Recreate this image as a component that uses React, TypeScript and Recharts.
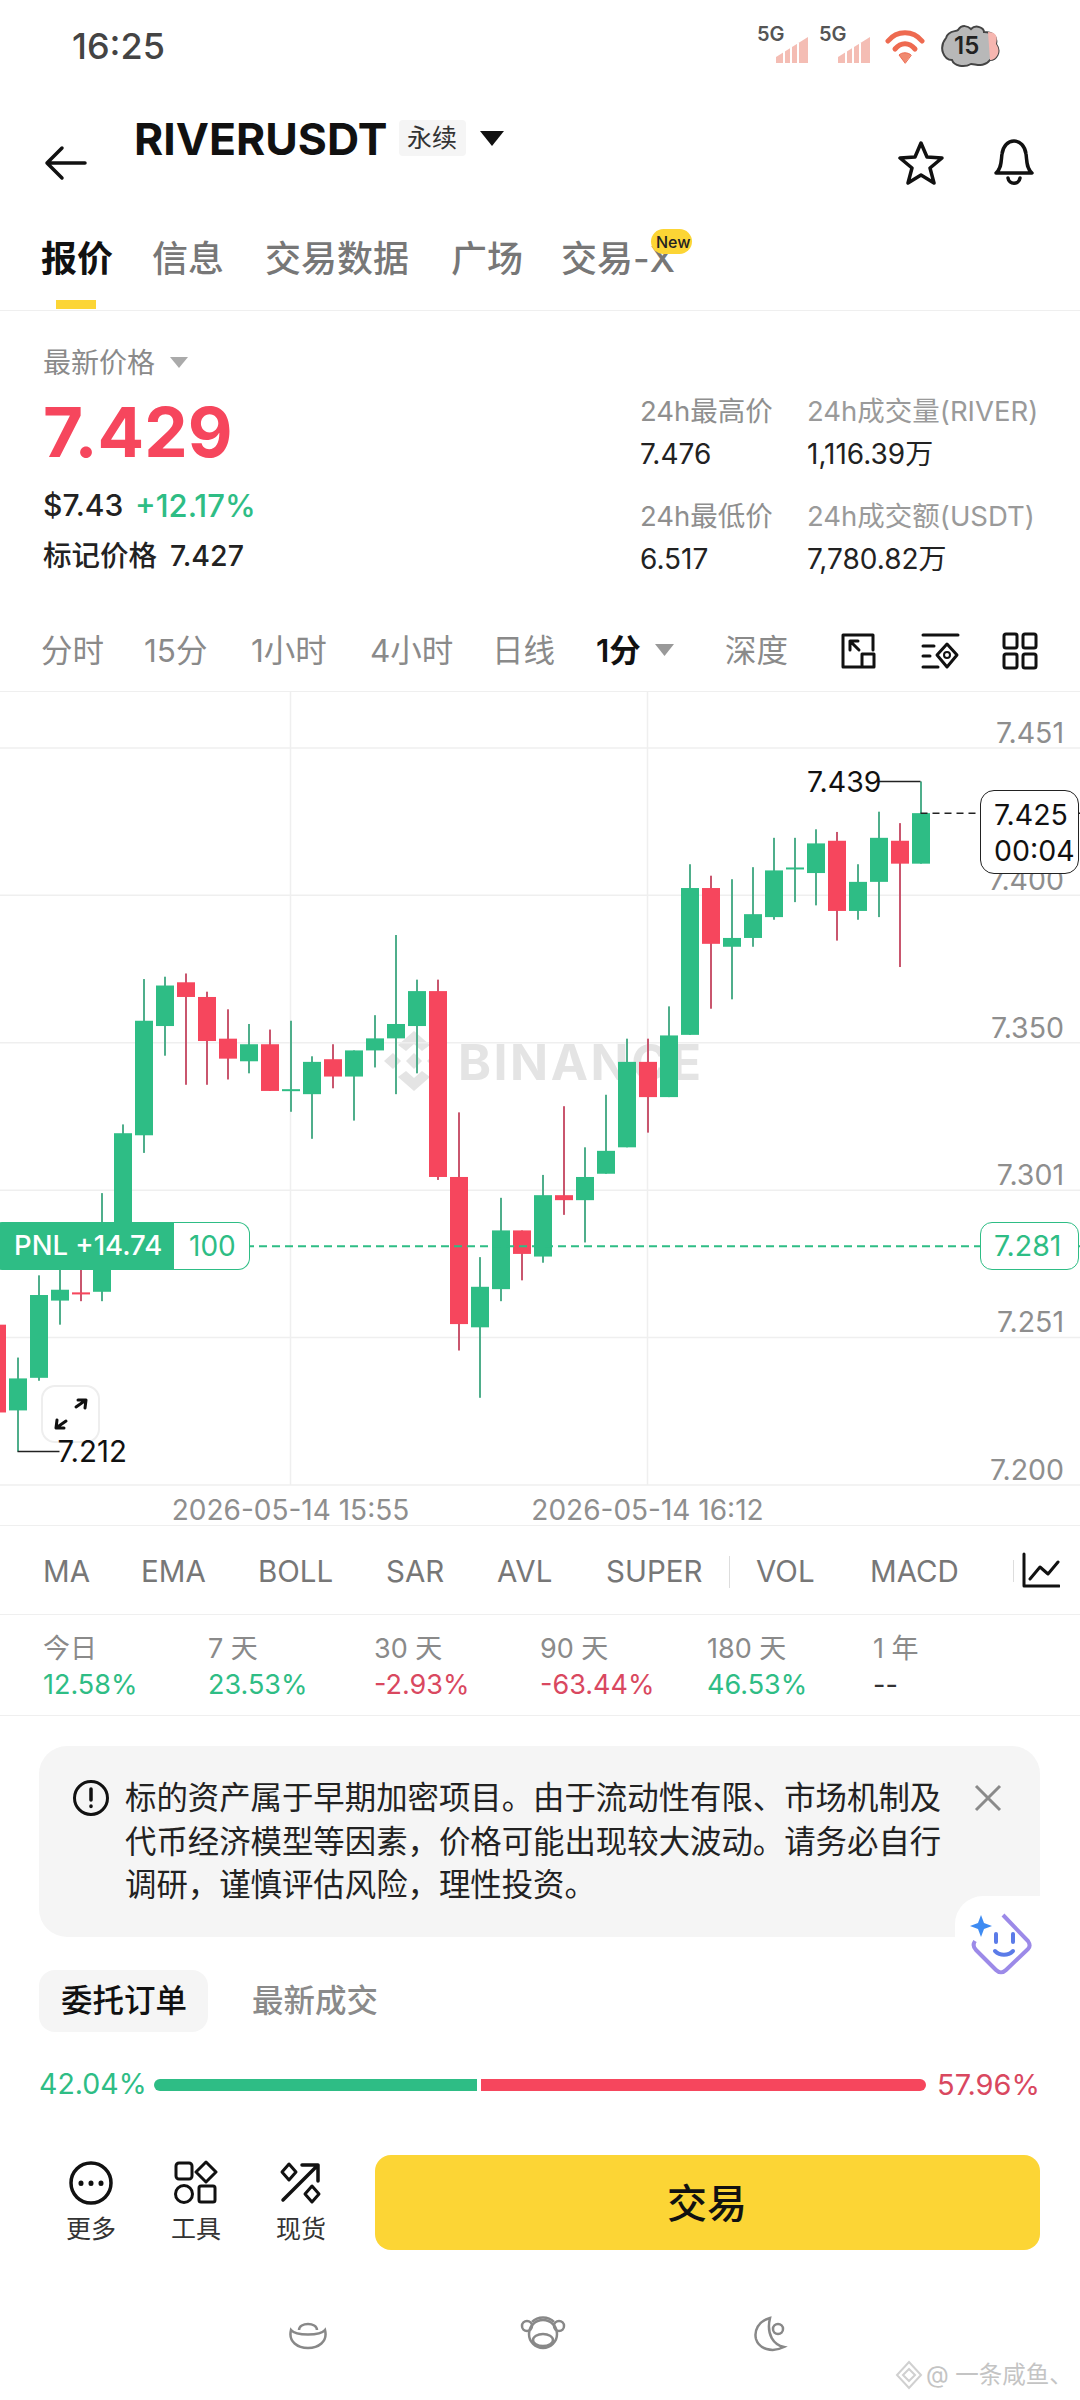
import React from "react";
import {
  Bar,
  BarChart,
  CartesianGrid,
  ComposedChart,
  ReferenceDot,
  ReferenceLine,
  XAxis,
  YAxis,
} from "recharts";

const FONT = "Inter, 'Noto Sans CJK SC', sans-serif";
const GREEN = "#2EBD85";
const RED = "#F6465D";
const GRID = "#EFEFEF";

// one candle a minute; the last slots stay empty, that is the room the app leaves on the right
const minutes = [
  "15:41", "15:42", "15:43", "15:44", "15:45", "15:46", "15:47", "15:48", "15:49", "15:50",
  "15:51", "15:52", "15:53", "15:54", "15:55", "15:56", "15:57", "15:58", "15:59", "16:00",
  "16:01", "16:02", "16:03", "16:04", "16:05", "16:06", "16:07", "16:08", "16:09", "16:10",
  "16:11", "16:12", "16:13", "16:14", "16:15", "16:16", "16:17", "16:18", "16:19", "16:20",
  "16:21", "16:22", "16:23", "16:24", "16:25", "16:26", "16:27", "16:28", "16:29", "16:30",
  "16:31", "16:32", "16:33",
];
const opens = [
  7.2546, 7.2254, 7.2365, 7.2628, 7.2656, 7.2658, 7.2798, 7.3191, 7.3563, 7.3712,
  7.3662, 7.352, 7.3443, 7.3501, 7.3342, 7.3331, 7.345, 7.3391, 7.348, 7.3521,
  7.3563, 7.3682, 7.3049, 7.2537, 7.2667, 7.2867, 7.2778, 7.2987, 7.297, 7.306,
  7.315, 7.3441, 7.3321, 7.3533, 7.4033, 7.3833, 7.3863, 7.3934, 7.4097, 7.4084,
  7.4194, 7.3955, 7.4054, 7.4194, 7.4116,
];
const closes = [
  7.2247, 7.2363, 7.2647, 7.2665, 7.2649, 7.2798, 7.3198, 7.3581, 7.3701, 7.3662,
  7.3512, 7.3452, 7.3501, 7.3342, 7.3348, 7.3441, 7.3391, 7.348, 7.3521, 7.357,
  7.3682, 7.3049, 7.2548, 7.2675, 7.2867, 7.2787, 7.2987, 7.297, 7.3049, 7.3138,
  7.3441, 7.3321, 7.3531, 7.4033, 7.3843, 7.3863, 7.3944, 7.4093, 7.4103, 7.4185,
  7.3955, 7.4054, 7.4204, 7.4116, 7.4288,
];
const highs = [
  7.2546, 7.2434, 7.2714, 7.2733, 7.2733, 7.2994, 7.3228, 7.3723, 7.3731, 7.3742,
  7.368, 7.362, 7.357, 7.3551, 7.3581, 7.346, 7.3501, 7.348, 7.36, 7.3873,
  7.3721, 7.3721, 7.3269, 7.2776, 7.2978, 7.2867, 7.3056, 7.329, 7.315, 7.3329,
  7.352, 7.352, 7.363, 7.4114, 7.4075, 7.4063, 7.4104, 7.4204, 7.4204, 7.4233,
  7.4224, 7.4114, 7.4293, 7.4254, 7.4396,
];
const lows = [
  7.2247, 7.2114, 7.2355, 7.2546, 7.2626, 7.2626, 7.2779, 7.3131, 7.3462, 7.3363,
  7.3363, 7.3381, 7.3402, 7.3342, 7.3271, 7.3179, 7.3351, 7.3241, 7.3422, 7.3331,
  7.3402, 7.3039, 7.2458, 7.2297, 7.2626, 7.2697, 7.2757, 7.292, 7.2826, 7.306,
  7.315, 7.32, 7.3321, 7.3533, 7.3622, 7.3654, 7.3833, 7.3925, 7.3985, 7.3974,
  7.3854, 7.3925, 7.3934, 7.3764, 7.4116,
];

const yTicks = [7.2, 7.2502, 7.3004, 7.3506, 7.4008, 7.451];
const yTickLabels = ["7.200", "7.251", "7.301", "7.350", "7.400", "7.451"];
const xTicks = ["15:55", "16:12"];
const tradeDate = "2026-05-14";
const lastClose = 7.4288;
const entryPrice = 7.2813;

const buySellNames = ["buy", "sell"];
const buySellValues = [42.04, 57.96];

const indicators = [
  ["MA", 43], ["EMA", 141], ["BOLL", 258], ["SAR", 386], ["AVL", 497],
  ["SUPER", 606], ["VOL", 756], ["MACD", 870],
] as [string, number][];
const periods = [
  ["今日", "12.58%", 43], ["7 天", "23.53%", 208], ["30 天", "-2.93%", 374],
  ["90 天", "-63.44%", 540], ["180 天", "46.53%", 707], ["1 年", "--", 873],
] as [string, string, number][];

const rows = minutes.map((time, i) => ({
  time,
  open: opens[i],
  close: closes[i],
  range: i < opens.length ? [lows[i], highs[i]] : null,
}));
const buySellRow = [{ name: "ratio", buy: buySellValues[0], sell: buySellValues[1] }];

// Bar hands us the pixel box of low..high, the body is placed inside it by proportion
function Candle(props: any) {
  const { x, y, width, height, payload } = props;
  if (!payload.range) return null;
  const [low, high] = payload.range;
  const pxPerUnit = Math.abs(height) / (high - low);
  const top = Math.min(y, y + height);
  const bodyTop = top + (high - Math.max(payload.open, payload.close)) * pxPerUnit;
  const bodyH = Math.max(Math.abs(payload.open - payload.close) * pxPerUnit, 2);
  const up = payload.close >= payload.open;
  const cx = x + width / 2;
  return (
    <g>
      <rect x={cx - 1} y={top} width={2} height={Math.abs(height)} fill={up ? "#4FAE8B" : "#C9566E"} />
      <rect x={x} y={bodyTop} width={width} height={bodyH} fill={up ? GREEN : RED} />
    </g>
  );
}

function PriceTick(props: any) {
  const { x, y, index } = props;
  return (
    <text x={x - 27} y={y - 13} textAnchor="end" dominantBaseline="middle" fontFamily={FONT} fontSize={28.5} fill="#8E8E8E">
      {yTickLabels[index]}
    </text>
  );
}

function T({ x, y, size, color = "#222", weight = 400, children }: any) {
  return (
    <div
      style={{
        position: "absolute",
        left: x,
        top: y,
        transform: "translateY(-50%)",
        fontFamily: FONT,
        fontSize: size,
        color,
        fontWeight: weight,
        lineHeight: 1,
        whiteSpace: "nowrap",
      }}
    >
      {children}
    </div>
  );
}

function Box({ x, y, w, h, style }: any) {
  return <div style={{ position: "absolute", left: x, top: y, width: w, height: h, boxSizing: "border-box", ...style }} />;
}

function Icon({ x, y, w, h, children }: any) {
  return (
    <svg
      style={{ position: "absolute", left: x, top: y }}
      width={w}
      height={h}
      viewBox={`0 0 ${w} ${h}`}
      fill="none"
      stroke="#111"
      strokeWidth={3}
      strokeLinejoin="round"
      strokeLinecap="round"
    >
      {children}
    </svg>
  );
}

function Triangle({ x, y, w, h, color }: any) {
  return (
    <svg style={{ position: "absolute", left: x, top: y }} width={w} height={h}>
      <polygon points={`0,0 ${w},0 ${w / 2},${h}`} fill={color} />
    </svg>
  );
}

function Signal({ x }: { x: number }) {
  return (
    <>
      <T x={x} y={34} size={20} color="#555" weight={600}>5G</T>
      <svg style={{ position: "absolute", left: x + 19, top: 37 }} width={32} height={26}>
        <polygon points="0,26 32,26 32,0 0,20" fill="#F4BDB4" />
        <path d="M8 26V14 M15 26V10 M22 26V6" stroke="#fff" strokeWidth={2} />
      </svg>
    </>
  );
}

function CandleChart() {
  return (
    <div style={{ position: "absolute", left: 0, top: 691, width: 1080, height: 860, overflow: "hidden" }}>
      <div
        style={{
          position: "absolute",
          left: 458,
          top: 371,
          transform: "translateY(-50%)",
          fontFamily: FONT,
          fontSize: 50,
          fontWeight: 700,
          letterSpacing: 2.5,
          color: "#E4E4E4",
        }}
      >
        BINANCE
      </div>
      <svg style={{ position: "absolute", left: 384, top: 340 }} width={60} height={60} fill="#E4E4E4">
        <path d="M30 0 46 14 38 20 30 13 22 20 14 14Z M0 30 9 22 17 30 9 38Z M30 22 38 30 30 38 22 30Z M43 30 51 22 60 30 51 38Z M14 46 22 40 30 47 38 40 46 46 30 60Z" />
      </svg>
      {/* expand button stays under the chart so the low label reads over it */}
      <Box x={41} y={694} w={59} h={58} style={{ background: "#fff", border: "2px solid #EEE", borderRadius: 14 }} />
      <Icon x={52} y={705} w={38} h={36}>
        <path d="M4 32 14 25 M4 32 5 24 M4 32 12 32 M34 4 24 11 M34 4 33 12 M34 4 26 4" strokeWidth={3} />
      </Icon>
      <div style={{ position: "absolute", left: -14, top: 0 }}>
        <ComposedChart
          width={1113}
          height={860}
          data={rows}
          margin={{ top: 0, right: 0, bottom: 26, left: 0 }}
          barCategoryGap={0}
        >
          <CartesianGrid stroke={GRID} strokeWidth={1.5} syncWithTicks />
          <XAxis
            dataKey="time"
            height={40}
            ticks={xTicks}
            interval={0}
            tickLine={false}
            axisLine={false}
            dy={7}
            tickFormatter={(t: string) => `${tradeDate} ${t}`}
            tick={{ fontFamily: FONT, fontSize: 28, fill: "#8E8E8E" }}
          />
          <YAxis
            orientation="right"
            mirror
            domain={[7.2, 7.4704]}
            ticks={yTicks}
            interval={0}
            tickLine={false}
            axisLine={false}
            tick={<PriceTick />}
          />
          <ReferenceLine
            segment={[{ x: "16:25", y: lastClose }, { x: "16:33", y: lastClose }]}
            stroke="#222"
            strokeWidth={1.5}
            strokeDasharray="7 5"
          />
          <Bar dataKey="range" barSize={18} shape={<Candle />} isAnimationActive={false} />
          <ReferenceLine y={entryPrice} stroke={GREEN} strokeWidth={2} strokeDasharray="8 5" />
          <ReferenceLine segment={[{ x: "16:23", y: 7.4396 }, { x: "16:25", y: 7.4396 }]} stroke="#222" strokeWidth={1.5} />
          <ReferenceLine segment={[{ x: "15:42", y: 7.2114 }, { x: "15:44", y: 7.2114 }]} stroke="#222" strokeWidth={1.5} />
          <ReferenceDot
            x="16:23"
            y={7.4396}
            r={0}
            stroke="none"
            label={{ value: "7.439", position: "left", offset: -3, fontFamily: FONT, fontSize: 28.5, fill: "#111" }}
          />
          <ReferenceDot
            x="15:44"
            y={7.2114}
            r={0}
            stroke="none"
            label={{ value: "7.212", position: "right", offset: -2, fontFamily: FONT, fontSize: 29.5, fill: "#111" }}
          />
        </ComposedChart>
      </div>
    </div>
  );
}

function BuySellBar() {
  return (
    <div style={{ position: "absolute", left: 154, top: 2078 }}>
      <BarChart width={772} height={13} data={buySellRow} layout="vertical" margin={{ top: 0, right: 0, bottom: 0, left: 0 }}>
        <XAxis type="number" hide domain={[0, 100]} />
        <YAxis type="category" dataKey="name" hide />
        <Bar dataKey={buySellNames[0]} stackId="a" fill={GREEN} barSize={12} radius={[6, 0, 0, 6]} stroke="#fff" strokeWidth={0} isAnimationActive={false} />
        <Bar dataKey={buySellNames[1]} stackId="a" fill={RED} barSize={12} radius={[0, 6, 6, 0]} isAnimationActive={false} />
      </BarChart>
      <Box x={323} y={0} w={4} h={13} style={{ background: "#fff" }} />
    </div>
  );
}

const pctColor = (v: string) => (v === "--" ? "#333" : v.startsWith("-") ? "#D9485F" : GREEN);

export default function App() {
  return (
    <div style={{ position: "absolute", left: 0, top: 0, width: 1080, height: 2400, background: "#fff", overflow: "hidden" }}>
      {/* status bar */}
      <T x={72} y={46} size={36} color="#444" weight={500}>16:25</T>
      <Signal x={757} />
      <Signal x={819} />
      <svg style={{ position: "absolute", left: 885, top: 28 }} width={46} height={38} fill="none" stroke="#EE6A50" strokeLinecap="round">
        <path d="M3 13C12 2 28 2 37 13" strokeWidth={5} />
        <path d="M10 21C16 14 24 14 30 21" strokeWidth={5} />
        <path d="M20 35 14 27C17 24 23 24 26 27Z" fill="#F08A70" strokeWidth={1} />
      </svg>
      <svg style={{ position: "absolute", left: 938, top: 24 }} width={70} height={44}>
        <path d="M8 14C10 6 18 8 20 6C24 0 30 2 33 5C38 0 46 4 46 8C54 8 60 12 58 20C64 28 58 36 52 36C46 44 38 40 33 40C26 44 16 42 14 36C6 36 0 24 8 14Z" fill="#B8B8B8" stroke="#444" strokeWidth={2} />
        <path d="M50 8C58 8 60 12 58 20C64 28 58 36 52 36Z" fill="#F6B6B0" />
        <text x={16} y={30} fontFamily={FONT} fontSize={24} fontWeight={600} fill="#222">15</text>
      </svg>

      {/* title row */}
      <Icon x={44} y={145} w={44} h={36}>
        <path d="M3 18H41 M18 3 3 18 18 33" strokeWidth={3.5} />
      </Icon>
      <T x={134} y={139} size={44.5} color="#111" weight={700}>RIVERUSDT</T>
      <Box x={399} y={120} w={67} h={36} style={{ background: "#F5F5F5", borderRadius: 4 }} />
      <T x={407} y={138} size={25} color="#333">永续</T>
      <Triangle x={480} y={131} w={24} h={15} color="#111" />
      <Icon x={898} y={140} w={46} h={46}>
        <polygon points="23,3 29,17 44,18 32,28 36,43 23,35 10,43 14,28 2,18 17,17" strokeWidth={3.5} />
      </Icon>
      <Icon x={992} y={138} w={44} h={50}>
        <path d="M4 35C10 30 9 22 10 16C11 8 16 3 22 3C28 3 33 8 34 16C35 22 34 30 40 35Z M16 40C17 47 27 47 28 40" strokeWidth={3.5} />
      </Icon>

      {/* tabs */}
      <T x={41} y={259} size={36} color="#111" weight={600}>报价</T>
      <T x={152} y={259} size={36} color="#777" weight={500}>信息</T>
      <T x={265} y={259} size={36} color="#777" weight={500}>交易数据</T>
      <T x={451} y={259} size={36} color="#777" weight={500}>广场</T>
      <T x={561} y={259} size={36} color="#777" weight={500}>交易-X</T>
      <Box x={651} y={229} w={41} h={25} style={{ background: "#FCD535", borderRadius: 13 }} />
      <T x={656} y={242} size={16} color="#222" weight={500}>New</T>
      <Box x={56} y={300} w={40} h={9} style={{ background: "#FCD535" }} />
      <Box x={0} y={310} w={1080} h={1} style={{ background: GRID }} />

      {/* price block */}
      <T x={43} y={363} size={28} color="#8A8A8A">最新价格</T>
      <Triangle x={170} y={357} w={18} h={11} color="#AAAAAA" />
      <T x={43} y={432} size={69} color={RED} weight={700}>7.429</T>
      <T x={43} y={505} size={30} color="#222" weight={500}>$7.43</T>
      <T x={135} y={505} size={31} color={GREEN} weight={500}>+12.17%</T>
      <T x={43} y={556} size={28.5} color="#222" weight={500}>标记价格</T>
      <T x={170} y={556} size={28.5} color="#222" weight={500}>7.427</T>
      <T x={640} y={412} size={27.5} color="#8F8F8F">24h最高价</T>
      <T x={807} y={412} size={27.5} color="#9A9A9A">24h成交量(RIVER)</T>
      <T x={640} y={454} size={28} color="#222">7.476</T>
      <T x={807} y={454} size={28} color="#222">1,116.39万</T>
      <T x={640} y={517} size={27.5} color="#8F8F8F">24h最低价</T>
      <T x={807} y={517} size={27.5} color="#9A9A9A">24h成交额(USDT)</T>
      <T x={640} y={559} size={28} color="#222">6.517</T>
      <T x={807} y={559} size={28} color="#222">7,780.82万</T>

      {/* interval row */}
      <T x={41} y={651} size={31.5} color="#8A8A8A">分时</T>
      <T x={144} y={651} size={31.5} color="#8A8A8A">15分</T>
      <T x={251} y={651} size={31.5} color="#8A8A8A">1小时</T>
      <T x={370} y={651} size={31.5} color="#8A8A8A">4小时</T>
      <T x={492} y={651} size={31.5} color="#8A8A8A">日线</T>
      <T x={596} y={651} size={31.5} color="#111" weight={600}>1分</T>
      <Triangle x={655} y={644} w={19} h={12} color="#999" />
      <T x={725} y={651} size={31.5} color="#8A8A8A">深度</T>
      <Icon x={840} y={632} w={36} h={38}>
        <path d="M20 3H3V35H20 M3 3H33V18 M22 22H34V35H22Z M10 9 19 18 M10 18V9H18" strokeWidth={3} />
      </Icon>
      <Icon x={920} y={632} w={40} h={38}>
        <path d="M3 3H38 M3 14H14 M3 24H10 M3 35H18" strokeWidth={3} />
        <path d="M27 12 37 23 27 35 17 23Z" strokeWidth={3} />
        <circle cx={27} cy={23} r={3} strokeWidth={2} />
      </Icon>
      <Icon x={1002} y={632} w={36} h={38}>
        <rect x={2} y={2} width={13} height={14} rx={2} />
        <rect x={21} y={2} width={13} height={14} rx={2} />
        <rect x={2} y={22} width={13} height={14} rx={2} />
        <rect x={21} y={22} width={13} height={14} rx={2} />
      </Icon>

      <Box x={0} y={691} w={1080} h={1} style={{ background: GRID }} />
      <CandleChart />
      <Box x={0} y={1525} w={1080} h={1} style={{ background: GRID }} />

      {/* overlays sitting on the chart */}
      <Box x={-12} y={1222} w={186} h={48} style={{ background: GREEN, borderRadius: "14px 0 0 14px" }} />
      <Box x={174} y={1222} w={76} h={48} style={{ background: "#fff", border: `1.5px solid ${GREEN}`, borderLeft: "none", borderRadius: "0 12px 12px 0" }} />
      <T x={14} y={1246} size={27.5} color="#fff" weight={500}>PNL +14.74</T>
      <T x={189} y={1246} size={28} color={GREEN}>100</T>
      <Box x={980} y={1222} w={99} h={48} style={{ background: "#fff", border: `1.5px solid ${GREEN}`, borderRadius: 12 }} />
      <T x={994} y={1246} size={28.5} color={GREEN}>7.281</T>
      <Box x={980} y={790} w={99} h={84} style={{ background: "#fff", border: "1.5px solid #222", borderRadius: 14 }} />
      <T x={994} y={815} size={28.5} color="#111">7.425</T>
      <T x={994} y={851} size={28.5} color="#111">00:04</T>

      {/* indicators */}
      {indicators.map(([name, x]) => (
        <T key={name} x={x} y={1572} size={29.5} color="#777">{name}</T>
      ))}
      <Box x={729} y={1556} w={1} h={32} style={{ background: "#DDD" }} />
      <Box x={1013} y={1560} w={1} h={22} style={{ background: "#DDD" }} />
      <Icon x={1022} y={1552} w={38} h={36}>
        <path d="M2 2V34H37 M8 27 18 15 26 22 36 10" strokeWidth={3} />
      </Icon>
      <Box x={0} y={1614} w={1080} h={1} style={{ background: GRID }} />

      {periods.map(([label, value, x]) => (
        <React.Fragment key={label}>
          <T x={x} y={1648} size={27} color="#8A8A8A">{label}</T>
          <T x={x} y={1684} size={27} color={pctColor(value)}>{value}</T>
        </React.Fragment>
      ))}
      <Box x={0} y={1715} w={1080} h={1} style={{ background: GRID }} />

      {/* risk notice */}
      <Box x={39} y={1746} w={1001} h={191} style={{ background: "#F5F5F5", borderRadius: 28 }} />
      <Icon x={72} y={1779} w={38} h={38}>
        <circle cx={19} cy={19} r={16.5} />
        <path d="M19 10V21 M19 27V27.5" strokeWidth={3.5} />
      </Icon>
      <T x={125} y={1799} size={31.4} color="#222">标的资产属于早期加密项目。由于流动性有限、市场机制及</T>
      <T x={125} y={1843} size={31.4} color="#222">代币经济模型等因素，价格可能出现较大波动。请务必自行</T>
      <T x={125} y={1886} size={31.4} color="#222">调研，谨慎评估风险，理性投资。</T>
      <svg style={{ position: "absolute", left: 973, top: 1783 }} width={30} height={30} stroke="#8A8A8A" strokeWidth={3}>
        <path d="M3 3 27 27 M27 3 3 27" />
      </svg>
      <Box x={955} y={1896} w={90} h={84} style={{ background: "#fff", borderRadius: "28px 0 0 28px" }} />
      <svg style={{ position: "absolute", left: 968, top: 1910 }} width={66} height={66} fill="none">
        <path d="M35 5 60 31C62 34 62 37 60 39L38 60C35 63 31 63 28 60L8 40C5 37 5 34 7 31" stroke="#9C8AE8" strokeWidth={4} />
        <path d="M13 5 16 13 24 16 16 19 13 27 10 19 2 16 10 13Z" fill="#3E8BF2" />
        <path d="M28 24V32 M45 24V32 M27 41C32 46 40 46 45 41" stroke="#5B7BE8" strokeWidth={4} strokeLinecap="round" />
      </svg>

      {/* order book tabs */}
      <Box x={39} y={1970} w={169} h={62} style={{ background: "#F5F5F5", borderRadius: 16 }} />
      <T x={61} y={2001} size={31.5} color="#111" weight={500}>委托订单</T>
      <T x={252} y={2001} size={31.5} color="#8A8A8A" weight={500}>最新成交</T>
      <T x={39} y={2084} size={28.5} color={GREEN}>{buySellValues[0].toFixed(2)}%</T>
      <BuySellBar />
      <T x={937} y={2084} size={29} color="#D9485F">{buySellValues[1].toFixed(2)}%</T>

      {/* bottom actions */}
      <Icon x={68} y={2160} w={46} h={46}>
        <circle cx={23} cy={23} r={20} strokeWidth={3.5} />
        <path d="M13 23V23.5 M23 23V23.5 M33 23V23.5" strokeWidth={5} />
      </Icon>
      <Icon x={173} y={2160} w={46} h={46}>
        <rect x={3} y={3} width={16} height={16} rx={3} />
        <path d="M33 2 43 12 33 22 23 12Z" />
        <circle cx={11} cy={34} r={8.5} />
        <rect x={26} y={26} width={16} height={16} rx={2} />
      </Icon>
      <Icon x={278} y={2160} w={46} h={46}>
        <path d="M5 40 40 5 M24 5H40V21" strokeWidth={3.5} />
        <path d="M11 4 18 12 11 20 4 12Z M34 26 41 34 34 42 27 34Z" />
      </Icon>
      <T x={66} y={2229} size={25} color="#333">更多</T>
      <T x={171} y={2229} size={25} color="#333">工具</T>
      <T x={276} y={2229} size={25} color="#333">现货</T>
      <Box x={375} y={2155} w={665} h={95} style={{ background: "#FCD535", borderRadius: 16 }} />
      <T x={667} y={2204} size={40} color="#111" weight={500}>交易</T>

      {/* system nav */}
      <svg style={{ position: "absolute", left: 288, top: 2316 }} width={40} height={34} fill="none" stroke="#888" strokeWidth={2.5}>
        <path d="M3 14C8 20 32 20 37 14C40 26 30 32 20 32C10 32 0 26 3 14Z" />
        <path d="M11 14C11 6 29 6 29 14" />
      </svg>
      <svg style={{ position: "absolute", left: 520, top: 2314 }} width={46} height={38} fill="none" stroke="#888" strokeWidth={2.5}>
        <circle cx={23} cy={20} r={14} />
        <circle cx={7} cy={12} r={5} />
        <circle cx={39} cy={12} r={5} />
        <ellipse cx={23} cy={26} rx={10} ry={6} />
        <path d="M12 8C18 2 28 2 34 8" />
      </svg>
      <svg style={{ position: "absolute", left: 752, top: 2315 }} width={36} height={38} fill="none" stroke="#888" strokeWidth={2.5}>
        <path d="M18 3C6 6 2 16 4 24C7 34 20 38 32 32C22 30 14 20 18 3Z" />
        <circle cx={26} cy={14} r={5} />
      </svg>
      <svg style={{ position: "absolute", left: 895, top: 2360 }} width={28} height={30} fill="none" stroke="#D0D0D0" strokeWidth={2}>
        <path d="M14 2 26 15 14 28 2 15Z M14 9 20 15 14 21 8 15Z" />
      </svg>
      <T x={926} y={2375} size={23.5} color="#C4C4C4">@ 一条咸鱼、</T>
    </div>
  );
}
